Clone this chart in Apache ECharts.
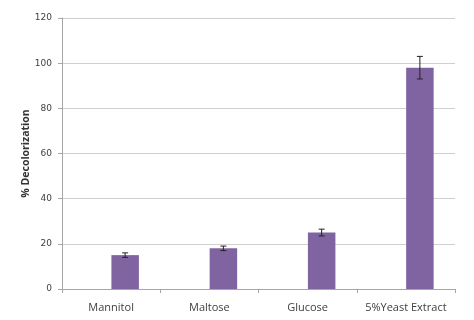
<!DOCTYPE html>
<html><head><meta charset="utf-8">
<script src="https://cdn.jsdelivr.net/npm/echarts@6/dist/echarts.min.js"></script>
<style>html,body{margin:0;padding:0;background:#fff}#c{width:474px;height:320px}</style>
</head><body><div id="c"></div>
<script>
const categories = ["Mannitol", "Maltose", "Glucose", "5%Yeast Extract"];
const values = [15, 18, 25, 98];
const errors = [1, 1, 1.5, 5];
const yTicks = [0, 20, 40, 60, 80, 100, 120];

const chart = echarts.init(document.getElementById('c'));
chart.setOption({
  animation: false,
  grid: {left: 62, right: 19, top: 18, bottom: 31},
  xAxis: {
    type: 'category', data: categories,
    axisLine: {lineStyle: {color: '#a6a6a6'}},
    axisTick: {show: true, interval: 0, lineStyle: {color: '#a6a6a6'}, length: 4},
    axisLabel: {interval: 0, color: '#404040', fontSize: 11, fontFamily: 'Open Sans', margin: 13}
  },
  yAxis: {
    type: 'value', min: yTicks[0], max: yTicks[yTicks.length - 1], interval: 20,
    name: '% Decolorization', nameLocation: 'middle', nameGap: 30, nameMoveOverlap: false,
    nameTextStyle: {fontWeight: 'bold', fontSize: 10.5, color: '#333', fontFamily: 'Open Sans'},
    axisLine: {show: true, lineStyle: {color: '#a6a6a6'}},
    axisTick: {show: true, lineStyle: {color: '#a6a6a6'}, length: 4},
    axisLabel: {color: '#404040', fontSize: 9, fontFamily: 'DejaVu Sans', margin: 10},
    splitLine: {lineStyle: {color: '#cfcfcf'}}
  },
  series: [
    {type: 'bar', data: categories.map(() => '-'), barWidth: 27.5, barGap: '2%', silent: true, itemStyle: {color: 'transparent'}},
    {type: 'bar', data: values, barWidth: 27.5, barGap: '2%', itemStyle: {color: '#8064A2'}},
    {
      type: 'custom', z: 10,
      data: values.map((v, i) => [i, v - errors[i], v + errors[i]]),
      renderItem: function (params, api) {
        const lo = api.coord([api.value(0), api.value(1)]);
        const hi = api.coord([api.value(0), api.value(2)]);
        const dx = api.size([1, 0])[0] * 0.1425;
        const x = lo[0] + dx;
        const hw = 3;
        const st = {stroke: '#222', lineWidth: 1};
        return {type: 'group', children: [
          {type: 'line', shape: {x1: x, y1: lo[1], x2: x, y2: hi[1]}, style: st},
          {type: 'line', shape: {x1: x - hw, y1: lo[1], x2: x + hw, y2: lo[1]}, style: st},
          {type: 'line', shape: {x1: x - hw, y1: hi[1], x2: x + hw, y2: hi[1]}, style: st}
        ]};
      }
    }
  ]
});
</script></body></html>
